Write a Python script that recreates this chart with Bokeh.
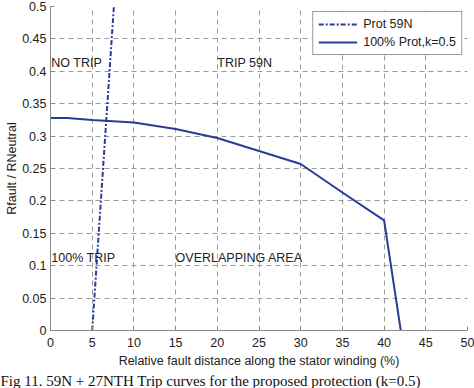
from bokeh.plotting import figure
from bokeh.models import (Range1d, FixedTicker, CustomJSTickFormatter, Label, Legend,
                          LegendItem, Title)
from bokeh.embed import file_html
from bokeh.resources import INLINE

# ---- data ----
prot59_x = [5, 7.6]
prot59_y = [0.0, 0.5]

prot100_x = [0, 2, 5, 10, 15, 20, 25, 30, 35, 40, 42]
prot100_y = [0.328, 0.328, 0.325, 0.321, 0.311, 0.297, 0.277, 0.257, 0.213, 0.170, 0.0]

x_ticks = [0, 5, 10, 15, 20, 25, 30, 35, 40, 45, 50]
y_ticks = [0, 0.05, 0.1, 0.15, 0.2, 0.25, 0.3, 0.35, 0.4, 0.45, 0.5]

series_names = ["Prot 59N", "100% Prot,k=0.5"]
region_labels = ["NO TRIP", "TRIP 59N", "100% TRIP", "OVERLAPPING AREA"]
region_x = [0.1, 20.0, 0.1, 15.0]
region_y = [0.413, 0.413, 0.112, 0.112]

x_title = "Relative fault distance along the stator winding (%)"
y_title = "Rfault / RNeutral"
caption = "Fig 11. 59N + 27NTH Trip curves for the proposed protection (k=0.5)"

FONT = "Liberation Sans"
FS = "12.5px"
COLOR = "#2a3b98"

p = figure(width=474, height=388, output_backend="svg", toolbar_location=None,
           x_range=Range1d(0, 50), y_range=Range1d(0, 0.5),
           min_border_left=50, min_border_right=7, min_border_top=6, min_border_bottom=0)

p.outline_line_color = None
p.background_fill_color = "white"

for ax in (p.xaxis[0], p.yaxis[0]):
    ax.major_label_text_font = FONT
    ax.major_label_text_font_size = FS
    ax.major_label_text_color = "#222222"
    ax.axis_label_text_font = FONT
    ax.axis_label_text_font_size = FS
    ax.axis_label_text_font_style = "normal"
    ax.axis_label_text_color = "#222222"
    ax.axis_line_color = "#8a8a8a"
    ax.major_tick_line_color = "#8a8a8a"
    ax.major_tick_in = 4
    ax.major_tick_out = 0
    ax.minor_tick_line_color = None

p.xaxis.ticker = FixedTicker(ticks=x_ticks)
p.yaxis.ticker = FixedTicker(ticks=y_ticks)
p.yaxis.formatter = CustomJSTickFormatter(code="return String(Math.round(tick*100)/100);")
p.xaxis.axis_label = x_title
p.yaxis.axis_label = y_title
p.xaxis.major_label_standoff = 7
p.yaxis.major_label_standoff = 4
p.xaxis.axis_label_standoff = 4
p.yaxis.axis_label_standoff = 0

for g in (p.xgrid[0], p.ygrid[0]):
    g.grid_line_color = "#9a9a9a"
    g.grid_line_dash = "5 4"
    g.grid_line_width = 1

r1 = p.line(prot59_x, prot59_y, line_color=COLOR, line_width=2, line_dash="5 2 2 2")
r2 = p.line(prot100_x, prot100_y, line_color=COLOR, line_width=2)

for t, x, y in zip(region_labels, region_x, region_y):
    p.add_layout(Label(x=x, y=y, text=t, text_font=FONT, text_font_size=FS,
                       text_color="#222222", text_baseline="middle", text_align="left"))

legend = Legend(items=[LegendItem(label=series_names[0], renderers=[r1]),
                       LegendItem(label=series_names[1], renderers=[r2])],
                location="top_right", margin=5, padding=5, spacing=4,
                glyph_width=39, glyph_height=14, label_height=14,
                label_standoff=6, border_line_color="#333333", border_line_width=1,
                label_text_font=FONT, label_text_font_size=FS,
                label_text_color="#222222", background_fill_alpha=1)
p.add_layout(legend)

cap = Title(text=caption, align="left", text_font="Liberation Serif",
            text_font_size="15px", text_font_style="normal", text_color="#111111",
            offset=-50, standoff=0)
p.add_layout(cap, "below")

open("out.html", "w").write(file_html(p, INLINE))
